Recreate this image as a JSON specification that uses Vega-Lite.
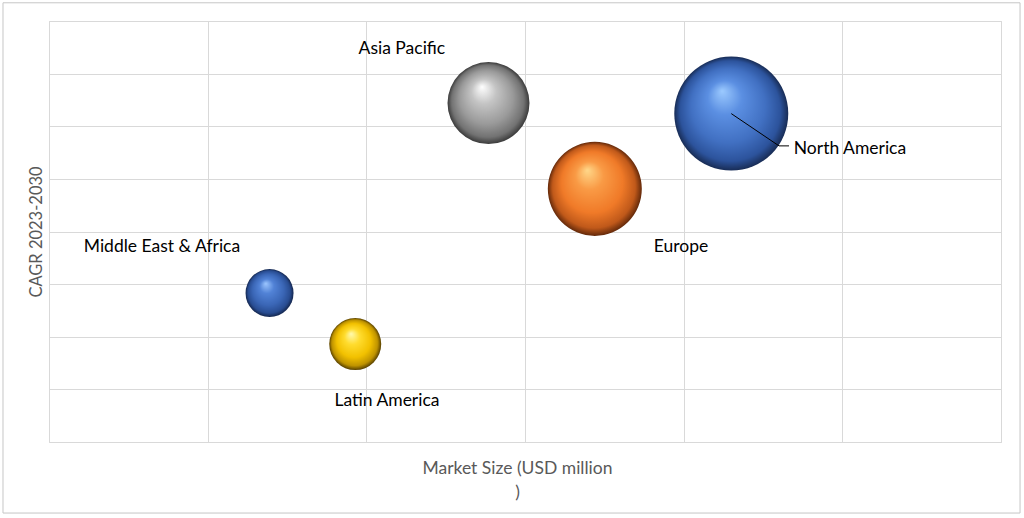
{
  "$schema": "https://vega.github.io/schema/vega-lite/v6.json",
  "width": 952,
  "height": 421,
  "autosize": "none",
  "padding": {"left": 49, "top": 21, "right": 23, "bottom": 76},
  "background": "white",
  "config": {
    "view": {"stroke": "#d9d9d9", "strokeWidth": 1},
    "font": "Lato"
  },
  "datasets": {
    "regions": [
      {"region": "North America", "market": 4.30, "cagr": 6.24, "bubble": 3249, "lx": 5.048, "ly": 5.56},
      {"region": "Europe", "market": 3.44, "cagr": 4.81, "bubble": 2209, "lx": 3.983, "ly": 3.697},
      {"region": "Asia Pacific", "market": 2.77, "cagr": 6.44, "bubble": 1681, "lx": 2.224, "ly": 7.46},
      {"region": "Latin America", "market": 1.93, "cagr": 1.86, "bubble": 676, "lx": 2.13, "ly": 0.788},
      {"region": "Middle East & Africa", "market": 1.39, "cagr": 2.83, "bubble": 576, "lx": 0.712, "ly": 3.697}
    ],
    "leader": [
      {"order": 1, "lx": 4.30, "ly": 6.24},
      {"order": 2, "lx": 4.601, "ly": 5.627},
      {"order": 3, "lx": 4.664, "ly": 5.627}
    ]
  },
  "layer": [
    {
      "data": {"values": [{}]},
      "mark": {"type": "rect", "fill": null, "stroke": "#c6c6c6", "strokeWidth": 1, "clip": false},
      "encoding": {
        "x": {"datum": -0.29, "type": "quantitative", "scale": {"domain": [0, 6], "nice": false, "zero": false},
          "axis": {"values": [0, 1, 2, 3, 4, 5, 6], "grid": true, "gridColor": "#d9d9d9", "ticks": false, "labels": false, "domain": false,
            "title": ["Market Size (USD million", ")"], "titleFont": "Lato", "titleFontSize": 17.5, "titleFontWeight": "normal", "titleColor": "#595959",
            "titlePadding": 17, "titleLineHeight": 24, "titleX": 468}},
        "x2": {"datum": 6.12},
        "y": {"datum": 8.346, "type": "quantitative", "scale": {"domain": [0, 8], "nice": false, "zero": false},
          "axis": {"values": [0, 1, 2, 3, 4, 5, 6, 7, 8], "grid": true, "gridColor": "#d9d9d9", "ticks": false, "labels": false, "domain": false,
            "title": "CAGR 2023-2030", "titleFont": "Lato", "titleFontSize": 16.5, "titleFontWeight": "normal", "titleColor": "#595959", "titlePadding": 5}},
        "y2": {"datum": -1.35}
      }
    },
    {
      "data": {"name": "regions"},
      "transform": [{"filter": {"field": "region", "equal": "North America"}}],
      "mark": {"type": "circle", "opacity": 1, "fill": {"gradient": "radial", "x1": 0.42, "y1": 0.3, "r1": 0, "x2": 0.5, "y2": 0.5, "r2": 0.5,
        "stops": [{"offset": 0, "color": "#9ccaff"}, {"offset": 0.3, "color": "#5b8fe2"}, {"offset": 0.65, "color": "#4170c2"}, {"offset": 0.88, "color": "#2c539c"}, {"offset": 1, "color": "#182c55"}]}},
      "encoding": {
        "x": {"field": "market", "type": "quantitative"},
        "y": {"field": "cagr", "type": "quantitative"},
        "size": {"field": "bubble", "type": "quantitative", "scale": {"type": "linear", "domain": [0, 3249], "range": [0, 12996], "zero": true}, "legend": null}
      }
    },
    {
      "data": {"name": "regions"},
      "transform": [{"filter": {"field": "region", "equal": "Europe"}}],
      "mark": {"type": "circle", "opacity": 1, "fill": {"gradient": "radial", "x1": 0.42, "y1": 0.3, "r1": 0, "x2": 0.5, "y2": 0.5, "r2": 0.5,
        "stops": [{"offset": 0, "color": "#ffd88a"}, {"offset": 0.3, "color": "#f99a45"}, {"offset": 0.65, "color": "#f07a28"}, {"offset": 0.88, "color": "#c0591a"}, {"offset": 1, "color": "#63290a"}]}},
      "encoding": {
        "x": {"field": "market", "type": "quantitative"},
        "y": {"field": "cagr", "type": "quantitative"},
        "size": {"field": "bubble", "type": "quantitative"}
      }
    },
    {
      "data": {"name": "regions"},
      "transform": [{"filter": {"field": "region", "equal": "Asia Pacific"}}],
      "mark": {"type": "circle", "opacity": 1, "fill": {"gradient": "radial", "x1": 0.42, "y1": 0.3, "r1": 0, "x2": 0.5, "y2": 0.5, "r2": 0.5,
        "stops": [{"offset": 0, "color": "#ffffff"}, {"offset": 0.3, "color": "#c4c4c4"}, {"offset": 0.65, "color": "#9a9a9a"}, {"offset": 0.88, "color": "#727272"}, {"offset": 1, "color": "#3a3a3a"}]}},
      "encoding": {
        "x": {"field": "market", "type": "quantitative"},
        "y": {"field": "cagr", "type": "quantitative"},
        "size": {"field": "bubble", "type": "quantitative"}
      }
    },
    {
      "data": {"name": "regions"},
      "transform": [{"filter": {"field": "region", "equal": "Latin America"}}],
      "mark": {"type": "circle", "opacity": 1, "fill": {"gradient": "radial", "x1": 0.42, "y1": 0.3, "r1": 0, "x2": 0.5, "y2": 0.5, "r2": 0.5,
        "stops": [{"offset": 0, "color": "#fffab0"}, {"offset": 0.3, "color": "#ffdc2e"}, {"offset": 0.65, "color": "#f2c100"}, {"offset": 0.88, "color": "#bf9300"}, {"offset": 1, "color": "#574000"}]}},
      "encoding": {
        "x": {"field": "market", "type": "quantitative"},
        "y": {"field": "cagr", "type": "quantitative"},
        "size": {"field": "bubble", "type": "quantitative"}
      }
    },
    {
      "data": {"name": "regions"},
      "transform": [{"filter": {"field": "region", "equal": "Middle East & Africa"}}],
      "mark": {"type": "circle", "opacity": 1, "fill": {"gradient": "radial", "x1": 0.42, "y1": 0.3, "r1": 0, "x2": 0.5, "y2": 0.5, "r2": 0.5,
        "stops": [{"offset": 0, "color": "#9cc6ff"}, {"offset": 0.3, "color": "#5182d6"}, {"offset": 0.65, "color": "#3a66b6"}, {"offset": 0.88, "color": "#284c91"}, {"offset": 1, "color": "#14264d"}]}},
      "encoding": {
        "x": {"field": "market", "type": "quantitative"},
        "y": {"field": "cagr", "type": "quantitative"},
        "size": {"field": "bubble", "type": "quantitative"}
      }
    },
    {
      "data": {"name": "leader"},
      "mark": {"type": "line", "color": "#000000", "strokeWidth": 1},
      "encoding": {
        "x": {"field": "lx", "type": "quantitative"},
        "y": {"field": "ly", "type": "quantitative"},
        "order": {"field": "order", "type": "quantitative"}
      }
    },
    {
      "data": {"name": "regions"},
      "mark": {"type": "text", "font": "Lato", "fontSize": 17.5, "color": "#000000", "align": "center", "baseline": "middle"},
      "encoding": {
        "x": {"field": "lx", "type": "quantitative"},
        "y": {"field": "ly", "type": "quantitative"},
        "text": {"field": "region"}
      }
    }
  ]
}
